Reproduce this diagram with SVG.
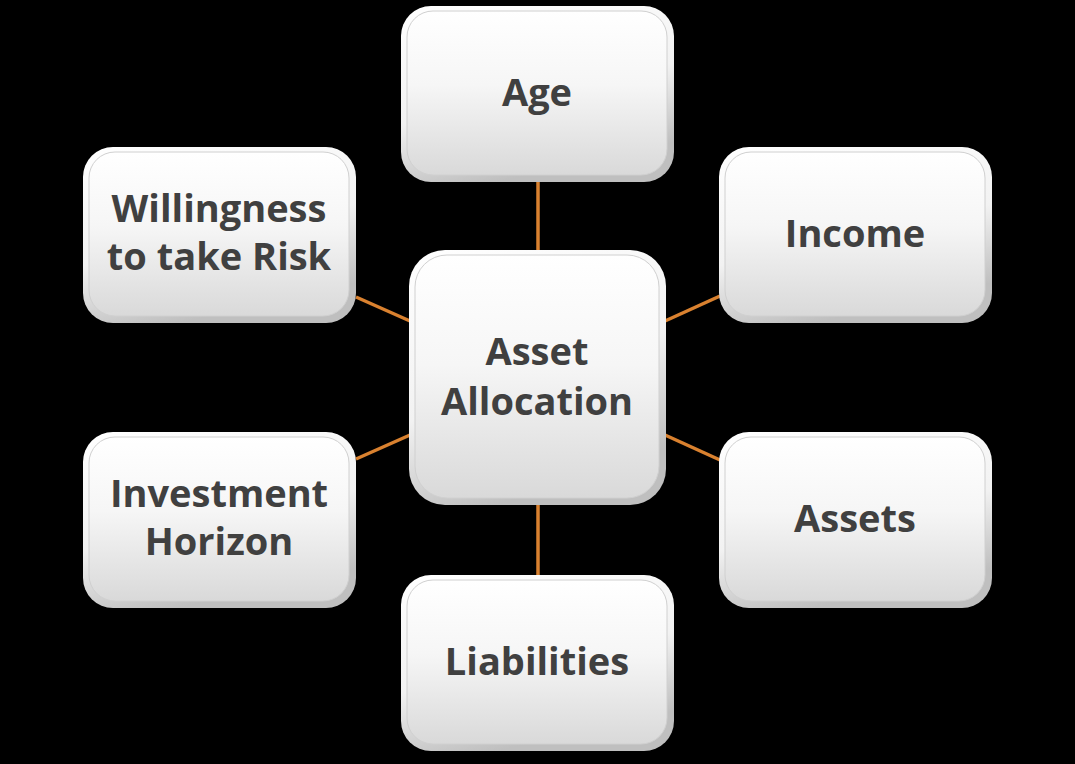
<svg xmlns="http://www.w3.org/2000/svg" width="1075" height="764" viewBox="0 0 1075 764">
  <defs>
    <linearGradient id="rim" x1="0" y1="0" x2="0.35" y2="1">
      <stop offset="0" stop-color="#ffffff"/>
      <stop offset="0.6" stop-color="#f2f2f2"/>
      <stop offset="1" stop-color="#bfbfbf"/>
    </linearGradient>
    <linearGradient id="face" x1="0" y1="0" x2="0" y2="1">
      <stop offset="0" stop-color="#ffffff"/>
      <stop offset="0.45" stop-color="#f6f6f6"/>
      <stop offset="1" stop-color="#d9d9d9"/>
    </linearGradient>
    <style>
      .rim { fill: url(#rim); }
      .face { fill: url(#face); stroke: #d0d0d0; stroke-width: 1; }
      .lbl { font-family: "Open Sans", "Liberation Sans", sans-serif; font-weight: bold; font-size: 38px; fill: #404040; text-anchor: middle; }
      .conn line { stroke: #D9812F; stroke-width: 3.5; }
    </style>
  </defs>
  <rect width="1075" height="764" fill="#000000"/>

  <g id="connectors" class="conn">
    <line x1="538" y1="182" x2="538" y2="251"/>
    <line x1="538" y1="505" x2="538" y2="576"/>
    <line x1="356" y1="297" x2="410" y2="321"/>
    <line x1="665" y1="321" x2="720" y2="296"/>
    <line x1="410" y1="435" x2="356" y2="459"/>
    <line x1="665" y1="435" x2="720" y2="460"/>
  </g>

  <g id="node-age">
    <rect class="rim" x="401" y="6" width="273" height="176" rx="30"/>
    <rect class="face" x="407" y="11" width="260" height="164" rx="26"/>
    <text class="lbl" x="537" y="106">Age</text>
  </g>

  <g id="node-willingness">
    <rect class="rim" x="83" y="147" width="273" height="176" rx="30"/>
    <rect class="face" x="89" y="152" width="260" height="164" rx="26"/>
    <text class="lbl" x="219" y="222">Willingness</text>
    <text class="lbl" x="219" y="270">to take Risk</text>
  </g>

  <g id="node-income">
    <rect class="rim" x="719" y="147" width="273" height="176" rx="30"/>
    <rect class="face" x="725" y="152" width="260" height="164" rx="26"/>
    <text class="lbl" x="855" y="247">Income</text>
  </g>

  <g id="node-center">
    <rect class="rim" x="409" y="250" width="257" height="255" rx="36"/>
    <rect class="face" x="415" y="255" width="244" height="243" rx="32"/>
    <text class="lbl" x="537" y="365">Asset</text>
    <text class="lbl" x="537" y="415">Allocation</text>
  </g>

  <g id="node-investment">
    <rect class="rim" x="83" y="432" width="273" height="176" rx="30"/>
    <rect class="face" x="89" y="437" width="260" height="164" rx="26"/>
    <text class="lbl" x="219" y="507">Investment</text>
    <text class="lbl" x="219" y="555">Horizon</text>
  </g>

  <g id="node-assets">
    <rect class="rim" x="719" y="432" width="273" height="176" rx="30"/>
    <rect class="face" x="725" y="437" width="260" height="164" rx="26"/>
    <text class="lbl" x="855" y="532">Assets</text>
  </g>

  <g id="node-liabilities">
    <rect class="rim" x="401" y="575" width="273" height="176" rx="30"/>
    <rect class="face" x="407" y="580" width="260" height="164" rx="26"/>
    <text class="lbl" x="537" y="675">Liabilities</text>
  </g>
</svg>
